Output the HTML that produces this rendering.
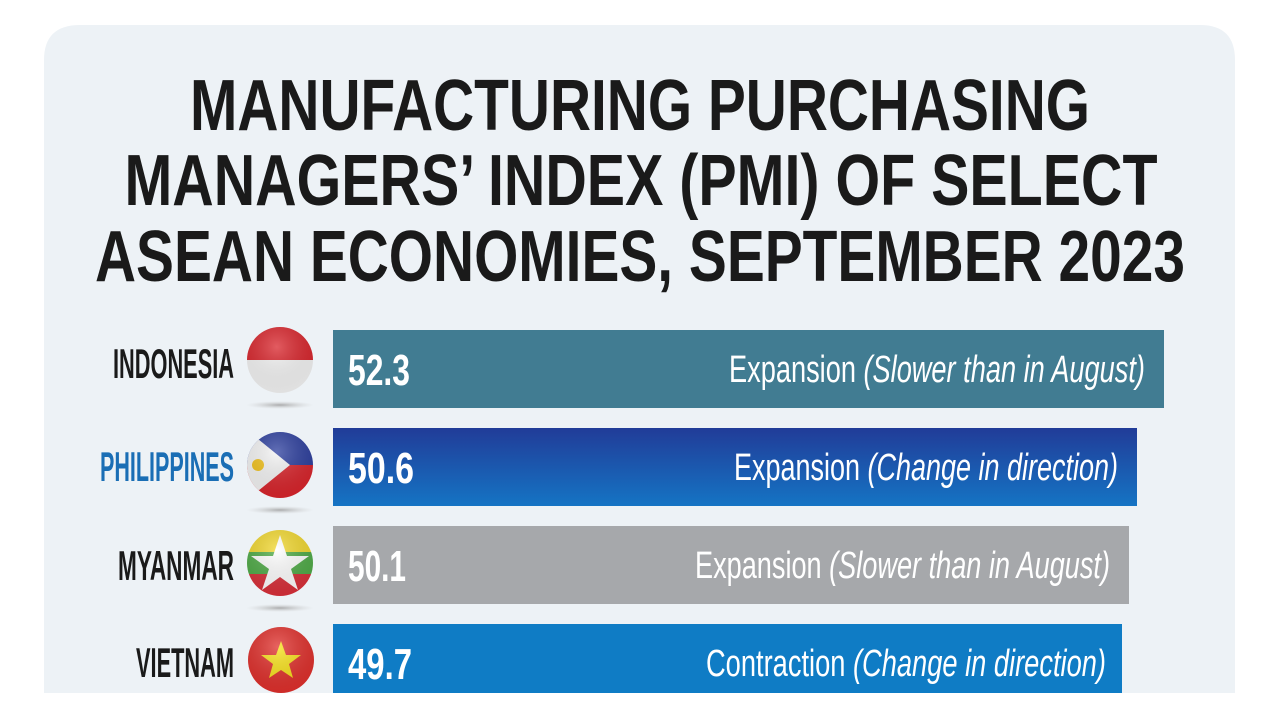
<!DOCTYPE html>
<html><head><meta charset="utf-8"><style>
html,body{margin:0;padding:0;background:#fff;width:1280px;height:720px;overflow:hidden}
svg{display:block}
text{font-family:"Liberation Sans Narrow","Liberation Sans",sans-serif;font-weight:bold}
</style></head><body>
<svg width="1280" height="720" viewBox="0 0 1280 720">
<defs>
<linearGradient id="ph" x1="0" y1="0" x2="0" y2="1"><stop offset="0" stop-color="#213c98"/><stop offset="1" stop-color="#1574c4"/></linearGradient>
<radialGradient id="sh" cx="0.5" cy="0.5" r="0.5"><stop offset="0" stop-color="#999" stop-opacity="0.8"/><stop offset="1" stop-color="#ccc" stop-opacity="0"/></radialGradient>
<radialGradient id="gl" cx="0.45" cy="0.3" r="0.7"><stop offset="0" stop-color="#fff" stop-opacity="0.25"/><stop offset="1" stop-color="#000" stop-opacity="0.08"/></radialGradient>
<clipPath id="c1"><circle cx="280" cy="360" r="33"/></clipPath>
<clipPath id="c2"><circle cx="280" cy="465" r="33"/></clipPath>
<clipPath id="c3"><circle cx="280" cy="563" r="33"/></clipPath>
</defs>
<path d="M44 60 Q44 25 80 25 L1200 25 Q1235 25 1235 60 L1235 693 L44 693 Z" fill="#edf2f6"/>
<g fill="#1a1a1a" font-size="72" text-anchor="middle">
<text x="640" y="130" textLength="900" lengthAdjust="spacingAndGlyphs">MANUFACTURING PURCHASING</text>
<text x="641" y="205" textLength="1033" lengthAdjust="spacingAndGlyphs">MANAGERS’ INDEX (PMI) OF SELECT</text>
<text x="640" y="281" textLength="1090" lengthAdjust="spacingAndGlyphs">ASEAN ECONOMIES, SEPTEMBER 2023</text>
</g>
<g font-size="42" text-anchor="end">
<text x="234" y="378" fill="#1a1a1a" textLength="121" lengthAdjust="spacingAndGlyphs">INDONESIA</text>
<text x="234" y="481" fill="#1a6eb5" textLength="134" lengthAdjust="spacingAndGlyphs">PHILIPPINES</text>
<text x="234" y="580" fill="#1a1a1a" textLength="116" lengthAdjust="spacingAndGlyphs">MYANMAR</text>
<text x="234" y="677" fill="#1a1a1a" textLength="98" lengthAdjust="spacingAndGlyphs">VIETNAM</text>
</g>
<!-- shadows -->
<ellipse cx="280" cy="405" rx="34" ry="4" fill="url(#sh)"/>
<ellipse cx="280" cy="510" rx="34" ry="4" fill="url(#sh)"/>
<ellipse cx="280" cy="608" rx="34" ry="4" fill="url(#sh)"/>
<!-- flags -->
<g clip-path="url(#c1)"><rect x="240" y="320" width="80" height="40" fill="#d9252c"/><rect x="240" y="360" width="80" height="40" fill="#f4f4f4"/></g>
<g clip-path="url(#c2)"><rect x="240" y="425" width="80" height="40" fill="#2d3f9e"/><rect x="240" y="465" width="80" height="40" fill="#d9252c"/><path d="M247 430 L290 465 L247 500 Z" fill="#f4f4f4"/><circle cx="258" cy="465" r="6" fill="#f2c21b"/></g>
<g clip-path="url(#c3)"><rect x="240" y="525" width="80" height="27" fill="#f1d72e"/><rect x="240" y="552" width="80" height="22" fill="#4fab47"/><rect x="240" y="574" width="80" height="30" fill="#d9303a"/><polygon points="280,535 287,556 309,556 291,569 298,590 280,577 262,590 269,569 251,556 273,556" fill="#fff"/></g>
<circle cx="281" cy="660" r="33" fill="#e0302c"/>
<polygon points="281,641 286,655 301,655 289,664 293,678 281,670 269,678 273,664 261,655 276,655" fill="#f7e11a"/>
<circle cx="280" cy="360" r="33" fill="url(#gl)"/>
<circle cx="280" cy="465" r="33" fill="url(#gl)"/>
<circle cx="280" cy="563" r="33" fill="url(#gl)"/>
<circle cx="281" cy="660" r="33" fill="url(#gl)"/>
<!-- bars -->
<rect x="333" y="330" width="831" height="78" fill="#417c92"/>
<rect x="333" y="428" width="804" height="78" fill="url(#ph)"/>
<rect x="333" y="526" width="796" height="78" fill="#a6a8ab"/>
<rect x="333" y="624" width="789" height="69" fill="#0f7cc5"/>
<g fill="#fff" font-size="44">
<text x="348" y="385" textLength="62" lengthAdjust="spacingAndGlyphs">52.3</text>
<text x="348" y="483" textLength="66" lengthAdjust="spacingAndGlyphs">50.6</text>
<text x="348" y="581" textLength="58" lengthAdjust="spacingAndGlyphs">50.1</text>
<text x="348" y="679" textLength="64" lengthAdjust="spacingAndGlyphs">49.7</text>
</g>
<g fill="#fff" font-size="38" font-weight="normal" style="font-weight:normal">
<text x="729" y="382" textLength="416" lengthAdjust="spacingAndGlyphs" style="font-weight:normal">Expansion <tspan font-style="italic">(Slower than in August)</tspan></text>
<text x="734" y="480" textLength="384" lengthAdjust="spacingAndGlyphs" style="font-weight:normal">Expansion <tspan font-style="italic">(Change in direction)</tspan></text>
<text x="695" y="578" textLength="415" lengthAdjust="spacingAndGlyphs" style="font-weight:normal">Expansion <tspan font-style="italic">(Slower than in August)</tspan></text>
<text x="706" y="676" textLength="400" lengthAdjust="spacingAndGlyphs" style="font-weight:normal">Contraction <tspan font-style="italic">(Change in direction)</tspan></text>
</g>
</svg>
</body></html>
